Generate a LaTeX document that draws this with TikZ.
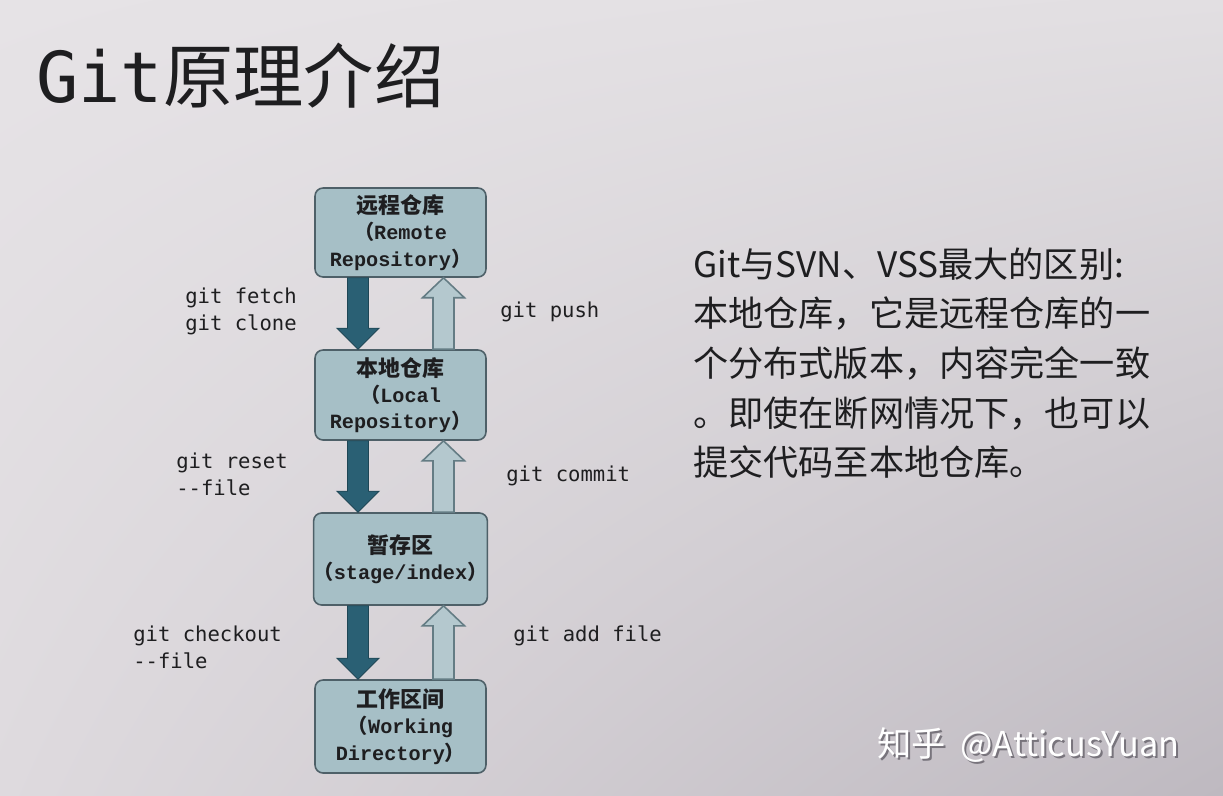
\documentclass[tikz,border=0pt]{standalone}
\usepackage{fontspec}
\setmonofont{DejaVu Sans Mono}
\newfontfamily\cjk{Noto Sans CJK SC}
\newfontfamily\boxmono{Liberation Mono}
\usetikzlibrary{calc,shadings}

\definecolor{bgtl}{RGB}{230,227,230}
\definecolor{bgtr}{RGB}{226,223,226}
\definecolor{bgbl}{RGB}{222,218,222}
\definecolor{bgbr}{RGB}{190,185,192}
\definecolor{boxfill}{RGB}{166,191,198}
\definecolor{boxline}{RGB}{78,96,104}
\definecolor{arrdark}{RGB}{42,96,116}
\definecolor{arrdarkline}{RGB}{30,70,85}
\definecolor{arrlight}{RGB}{180,200,206}
\definecolor{arrlightline}{RGB}{100,124,132}
\definecolor{ink}{RGB}{30,30,32}
\definecolor{shadowc}{RGB}{120,116,124}

\tikzset{
  box/.style={draw=boxline, fill=boxfill, line width=0.9pt, rounded corners=0.16cm,
    minimum width=3.42cm, align=center, text=ink, inner sep=0pt,
    font=\boxmono\bfseries\fontsize{11.5}{15}\selectfont},
  lbl/.style={anchor=west, align=left, inner sep=0pt, text=ink,
    font=\ttfamily\fontsize{11.7}{15.3}\selectfont},
  downarr/.style={fill=arrdark, draw=arrdarkline, line width=0.5pt},
  uparr/.style={fill=arrlight, draw=arrlightline, line width=0.9pt}
}

\begin{document}
\begin{tikzpicture}[x=0.02cm,y=-0.02cm]
\shade[upper left=bgtl, upper right=bgtr, lower left=bgbl, lower right=bgbr] (0,0) rectangle (1223,795);

% title
\node[anchor=west, inner sep=0pt, text=ink, font=\fontsize{40}{48}\selectfont] (title) at (36,76) {{\ttfamily Git}{\cjk 原理介绍}};

% the four areas
\node[box, minimum height=1.78cm] (remote) at (400.5,232.5) {{\cjk\fontsize{12.5}{15}\selectfont 远程仓库}\\{\cjk （}Remote\\Repository{\cjk ）}};
\node[box, minimum height=1.80cm] (local) at (400.5,395) {{\cjk\fontsize{12.5}{15}\selectfont 本地仓库}\\{\cjk （}Local\\Repository{\cjk ）}};
\node[box, minimum height=1.84cm] (stage) at (400.5,559) {{\cjk\fontsize{12.5}{15}\selectfont 暂存区}\\{\cjk （}stage/index{\cjk ）}};
\node[box, minimum height=1.86cm] (work) at (400.5,726.5) {{\cjk\fontsize{12.5}{15}\selectfont 工作区间}\\{\cjk （}Working\\Directory{\cjk ）}};

% block arrows
\foreach \a/\b in {remote/local,local/stage,stage/work}{
  \draw[downarr] ($(\a.south)+(-53,0)$) -- ($(\a.south)+(-32,0)$) -- ($(\b.north)+(-32,-21)$)
    -- ($(\b.north)+(-21.5,-21)$) -- ($(\b.north)+(-42.5,0)$) -- ($(\b.north)+(-63.5,-21)$)
    -- ($(\b.north)+(-53,-21)$) -- cycle;
  \draw[uparr] ($(\b.north)+(32.5,0)$) -- ($(\b.north)+(53.5,0)$) -- ($(\a.south)+(53.5,20)$)
    -- ($(\a.south)+(64,20)$) -- ($(\a.south)+(43,0)$) -- ($(\a.south)+(22,20)$)
    -- ($(\a.south)+(32.5,20)$) -- cycle;
}

% commands
\node[lbl] (fetch) at (185,311) {git fetch\\git clone};
\node[lbl] (push) at (500,312) {git push};
\node[lbl] (reset) at (176,474) {git reset\\-{}-file};
\node[lbl] (commit) at (506,476) {git commit};
\node[lbl] (checkout) at (133,647) {git checkout\\-{}-file};
\node[lbl] (add) at (513,636) {git add file};

% right hand text
\node[anchor=north west, inner sep=0pt, align=left, text=ink, font=\cjk\fontsize{20}{28.3}\selectfont] (diff) at (693,247)
  {Git与SVN、VSS最大的区别:\\本地仓库，它是远程仓库的一\\个分布式版本，内容完全一致\\。即使在断网情况下，也可以\\提交代码至本地仓库。};

% watermark
\node[anchor=west, inner sep=0pt, text=shadowc, font=\cjk\fontsize{19.5}{24}\selectfont] (markshadow) at (879,747) {知乎\hspace{4pt} @AtticusYuan};
\node[anchor=west, inner sep=0pt, text=white, font=\cjk\fontsize{19.5}{24}\selectfont] (mark) at (877,745) {知乎\hspace{4pt} @AtticusYuan};
\end{tikzpicture}
\end{document}
